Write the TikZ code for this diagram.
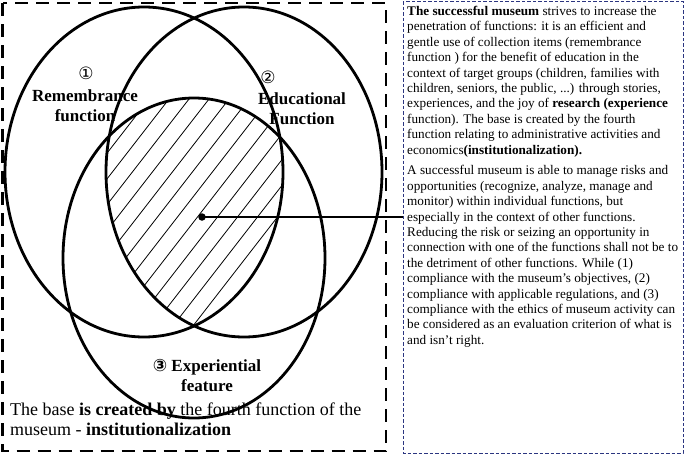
\documentclass[tikz,border=0pt]{standalone}
\usepackage{fontspec}
\setmainfont{Liberation Serif}
\newfontfamily\symfont{DejaVu Sans}
\begin{document}
\begin{tikzpicture}[x=1pt,y=-1pt,
  venn/.style={line width=2.8pt},
  hatchline/.style={line width=0.8pt},
  lbl/.style={font=\fontsize{17}{20}\selectfont\bfseries, align=center, inner sep=0pt},
  numlbl/.style={font=\fontsize{17}{19}\selectfont\symfont, inner sep=0pt},
  outerbox/.style={line width=2.8pt, dash pattern=on 13pt off 8pt},
  textbox/.style={draw=navy, line width=0.9pt, dash pattern=on 3.5pt off 2pt}
]
\definecolor{navy}{HTML}{2B3580}
\useasboundingbox (0,0) rectangle (685,455);
% outer dashed box
\draw[outerbox] (2.5,3) rectangle (386,451);
% right text box
\draw[textbox] (403,1) rectangle (683,453);
% hatched intersection
\begin{scope}
  \clip (144,172) ellipse [x radius=139, y radius=165];
  \clip (244,172) ellipse [x radius=138, y radius=165];
  \clip (194,258) ellipse [x radius=131, y radius=160];
  \foreach \c in {-300,-280,...,500} {
    \draw[hatchline] (\c,420) -- (\c+256,90);
  }
\end{scope}
% ellipses
\draw[venn] (144,172) ellipse [x radius=139, y radius=165];
\draw[venn] (244,172) ellipse [x radius=138, y radius=165];
\draw[venn] (194,258) ellipse [x radius=131, y radius=160];
% dot and connector
\node[circle, fill=black, inner sep=0pt, minimum size=7.5pt] (dot) at (202,217) {};
\coordinate (lineend) at (403,217);
\draw[line width=1.6pt] (dot.center) -- (lineend);
% labels
\node[numlbl] (n1) at (86,73) {①};
\node[lbl] (rem) at (85,106) {Remembrance\\function};
\node[numlbl] (n2) at (268,77) {②};
\node[lbl] (edu) at (302,109) {Educational\\Function};
\node[lbl] (exp) at (207,376) {{\symfont\fontsize{17}{18}\selectfont ③} Experiential\\feature};
\node[anchor=north west, inner sep=0pt, align=left, font=\fontsize{18}{20}\selectfont] (base) at (10,403)
  {The base \textbf{is created by} the fourth function of the\\museum - \textbf{institutionalization}};
% right text
\node[anchor=north west, inner sep=0pt, align=left, font=\fontsize{13.2}{15.4}\selectfont] (txt) at (407,6)
  {\textbf{The successful museum} strives to increase the\\
penetration of functions: it is an efficient and\\
gentle use of collection items (remembrance\\
function ) for the benefit of education in the\\
context of target groups (children, families with\\
children, seniors, the public, ...) through stories,\\
experiences, and the joy of \textbf{research (experience}\\
function). The base is created by the fourth\\
function relating to administrative activities and\\
economics\textbf{(institutionalization).}\\[5.5pt]
A successful museum is able to manage risks and\\
opportunities (recognize, analyze, manage and\\
monitor) within individual functions, but\\
especially in the context of other functions.\\
Reducing the risk or seizing an opportunity in\\
connection with one of the functions shall not be to\\
the detriment of other functions. While (1)\\
compliance with the museum’s objectives, (2)\\
compliance with applicable regulations, and (3)\\
compliance with the ethics of museum activity can\\
be considered as an evaluation criterion of what is\\
and isn’t right.};
\end{tikzpicture}
\end{document}
